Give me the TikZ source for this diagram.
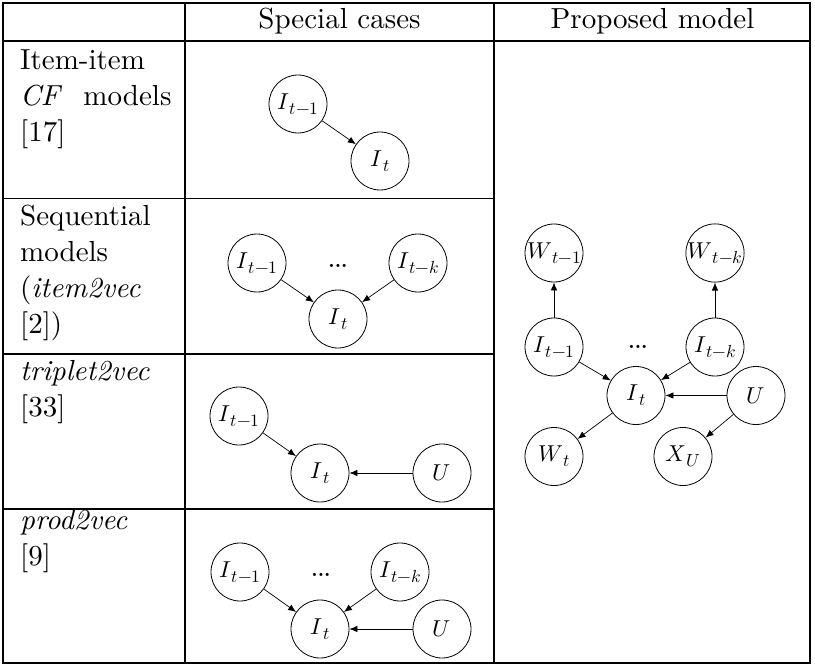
\documentclass[tikz,border=0pt]{standalone}
\usepackage{unicode-math}
\setmainfont{lmroman10-regular.otf}[ItalicFont=lmroman10-italic.otf, BoldFont=lmroman10-bold.otf]
\usetikzlibrary{arrows.meta}
\newcommand\nlab[2]{$#1$\kern0.3pt\raisebox{-5pt}{\fontsize{17.5}{17.5}\selectfont$#2$}}
\tikzset{
  grid/.style={line width=1.1pt},
  nd/.style={circle, draw, line width=0.8pt, minimum size=58pt, inner sep=0pt, font=\fontsize{23}{27}\selectfont},
  dotsnode/.style={inner sep=0pt, font=\fontsize{20}{24}\selectfont\bfseries},
  arr/.style={-{Latex[length=8pt,width=6.5pt]}, line width=0.7pt},
  lbl/.style={anchor=base west, inner sep=0pt, font=\fontsize{29}{36}\selectfont},
  hdr/.style={anchor=base, inner sep=0pt, font=\fontsize{29}{36}\selectfont}
}
\begin{document}
\begin{tikzpicture}[x=1pt,y=-1pt]
\useasboundingbox (0,0) rectangle (815,669);
% table
\draw[grid] (3,3) rectangle (810,663);
\draw[grid] (3,41) -- (810,41);
\draw[grid] (185,3) -- (185,663);
\draw[grid] (494,3) -- (494,663);
\draw[grid] (3,198.5) -- (494,198.5);
\draw[grid] (3,354) -- (494,354);
\draw[grid] (3,509) -- (494,509);
% headers
\node[hdr] (h1) at (339.5,29) {Special cases};
\node[hdr] (h2) at (652.5,29) {Proposed model};
% left column
\node[lbl] (l1a) at (20,70) {Item-item};
\node[lbl] (l1b) at (20,106) {\textit{CF}\hspace{0.4em} models};
\node[lbl] (l1c) at (20,142) {[17]};
\node[lbl] (l2a) at (20,225) {Sequential};
\node[lbl] (l2b) at (20,261) {models};
\node[lbl] (l2c) at (20,297) {(\textit{item2vec}};
\node[lbl] (l2d) at (20,333) {[2])};
\node[lbl] (l3a) at (20,380) {\textit{triplet2vec}};
\node[lbl] (l3b) at (20,416) {[33]};
\node[lbl] (l4a) at (20,529) {\textit{prod2vec}};
\node[lbl] (l4b) at (20,565) {[9]};
% row 1
\node[nd] (a1) at (298,104) {\nlab{I}{t{-}1}};
\node[nd] (b1) at (380,161) {\nlab{I}{t}};
\draw[arr] (a1) -- (b1);
% row 2
\node[nd] (a2) at (257,263) {\nlab{I}{t{-}1}};
\node[nd] (k2) at (418,263) {\nlab{I}{t{-}k}};
\node[nd] (t2) at (338,319) {\nlab{I}{t}};
\node[dotsnode] (d2) at (338,266) {...};
\draw[arr] (a2) -- (t2);
\draw[arr] (k2) -- (t2);
% row 3
\node[nd] (a3) at (239,416) {\nlab{I}{t{-}1}};
\node[nd] (t3) at (320,473) {\nlab{I}{t}};
\node[nd] (u3) at (442,473) {$U$};
\draw[arr] (a3) -- (t3);
\draw[arr] (u3) -- (t3);
% row 4
\node[nd] (a4) at (240,572) {\nlab{I}{t{-}1}};
\node[nd] (k4) at (400,572) {\nlab{I}{t{-}k}};
\node[nd] (t4) at (320,629) {\nlab{I}{t}};
\node[nd] (u4) at (442,629) {$U$};
\node[dotsnode] (d4) at (321,575) {...};
\draw[arr] (a4) -- (t4);
\draw[arr] (k4) -- (t4);
\draw[arr] (u4) -- (t4);
% proposed model
\node[nd] (pw1) at (554,253) {\nlab{W}{t{-}1}};
\node[nd] (pwk) at (715,253) {\nlab{W}{t{-}k}};
\node[nd] (pi1) at (554,347) {\nlab{I}{t{-}1}};
\node[nd] (pik) at (715,347) {\nlab{I}{t{-}k}};
\node[nd] (pit) at (636,395.5) {\nlab{I}{t}};
\node[nd] (pu) at (756,395.5) {$U$};
\node[nd] (pwt) at (554,456.5) {\nlab{W}{t}};
\node[nd] (pxu) at (683,456.5) {\nlab{X}{U}};
\node[dotsnode] (pd) at (638,347) {...};
\draw[arr] (pi1) -- (pw1);
\draw[arr] (pik) -- (pwk);
\draw[arr] (pi1) -- (pit);
\draw[arr] (pik) -- (pit);
\draw[arr] (pu) -- (pit);
\draw[arr] (pit) -- (pwt);
\draw[arr] (pu) -- (pxu);
\end{tikzpicture}
\end{document}
